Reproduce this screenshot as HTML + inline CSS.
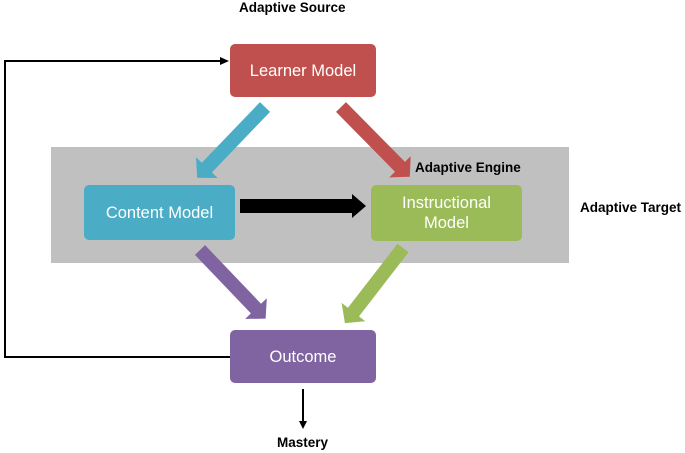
<!DOCTYPE html>
<html><head><style>
body{margin:0;width:685px;height:453px;background:#fff;overflow:hidden;position:relative;font-family:"Liberation Sans",sans-serif}
.b{position:absolute;border-radius:5px;color:#fff;font-size:16.5px;display:flex;align-items:center;justify-content:center;text-align:center;line-height:20px}
.t{position:absolute;font-weight:bold;font-size:13.5px;color:#000}
</style></head><body>
<div style="position:absolute;left:51px;top:147px;width:518px;height:116px;background:#c0c0c0"></div>
<div class="b" style="left:230px;top:44px;width:146px;height:53px;background:#c0504d">Learner Model</div>
<div class="b" style="left:84px;top:185px;width:151px;height:55px;background:#4bacc6">Content Model</div>
<div class="b" style="left:371px;top:185px;width:151px;height:56px;background:#9bbb59">Instructional<br>Model</div>
<div class="b" style="left:230px;top:330px;width:146px;height:53px;background:#8064a2">Outcome</div>
<div class="t" style="left:239px;top:0px">Adaptive Source</div>
<div class="t" style="left:415px;top:160px">Adaptive Engine</div>
<div class="t" style="left:580px;top:200px">Adaptive Target</div>
<div class="t" style="left:277px;top:435px">Mastery</div>
<svg width="685" height="453" style="position:absolute;left:0;top:0">
<polygon points="240,199 352,199 352,194 366,206 352,218 352,213 240,213" fill="#000"/>
<polyline points="230,357 5,357 5,61 222,61" fill="none" stroke="#000" stroke-width="2"/>
<polygon points="220,57 229,61 220,65" fill="#000"/>
<line x1="303" y1="389" x2="303" y2="422" stroke="#000" stroke-width="2"/>
<polygon points="299,421 303,429 307,421" fill="#000"/>
<g transform="translate(265,107) rotate(133.8)"><polygon points="0,-7 84,-7 84,-15 98,0 84,15 84,7 0,7" fill="#4bacc6"/></g>
<g transform="translate(341,107) rotate(45.4)"><polygon points="0,-7 84,-7 84,-15 98,0 84,15 84,7 0,7" fill="#c0504d"/></g>
<g transform="translate(200,250) rotate(46.3)"><polygon points="0,-7 81,-7 81,-15 95,0 81,15 81,7 0,7" fill="#8064a2"/></g>
<g transform="translate(403,248) rotate(127.7)"><polygon points="0,-7 81,-7 81,-15 95,0 81,15 81,7 0,7" fill="#9bbb59"/></g>
</svg>
</body></html>
